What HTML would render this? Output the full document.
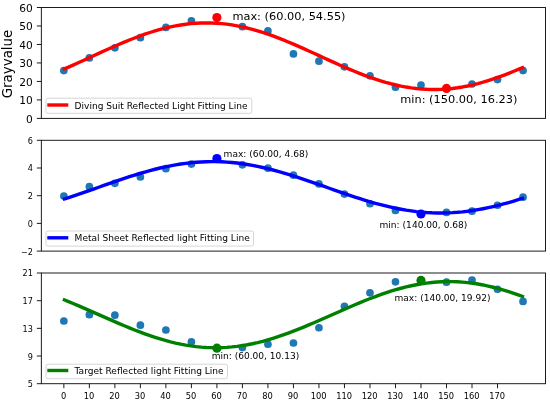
<!DOCTYPE html>
<html><head><meta charset="utf-8"><title>Reflected Light Fitting</title>
<style>html,body{margin:0;padding:0;background:#fff}svg{display:block;filter:blur(0.3px)}</style></head>
<body>
<svg width="550" height="401" viewBox="0 0 550 401" font-family="DejaVu Sans, Liberation Sans, sans-serif">
<rect width="550" height="401" fill="#fff"/>
<g id="ax1">
<circle cx="63.85" cy="70.53" r="3.85" fill="#1f77b4"/>
<circle cx="89.36" cy="57.96" r="3.85" fill="#1f77b4"/>
<circle cx="114.87" cy="47.79" r="3.85" fill="#1f77b4"/>
<circle cx="140.38" cy="37.63" r="3.85" fill="#1f77b4"/>
<circle cx="165.89" cy="27.46" r="3.85" fill="#1f77b4"/>
<circle cx="191.40" cy="20.81" r="3.85" fill="#1f77b4"/>
<circle cx="216.91" cy="17.57" r="4.6" fill="#ff0000"/>
<circle cx="242.42" cy="26.72" r="3.85" fill="#1f77b4"/>
<circle cx="267.93" cy="30.97" r="3.85" fill="#1f77b4"/>
<circle cx="293.44" cy="53.89" r="3.85" fill="#1f77b4"/>
<circle cx="318.95" cy="61.19" r="3.85" fill="#1f77b4"/>
<circle cx="344.46" cy="66.83" r="3.85" fill="#1f77b4"/>
<circle cx="369.97" cy="75.80" r="3.85" fill="#1f77b4"/>
<circle cx="395.48" cy="87.26" r="3.85" fill="#1f77b4"/>
<circle cx="420.99" cy="85.04" r="3.85" fill="#1f77b4"/>
<circle cx="446.50" cy="88.40" r="4.6" fill="#ff0000"/>
<circle cx="472.01" cy="84.02" r="3.85" fill="#1f77b4"/>
<circle cx="497.52" cy="79.59" r="3.85" fill="#1f77b4"/>
<circle cx="523.03" cy="70.53" r="3.85" fill="#1f77b4"/>
<path d="M62.83 69.51 L67.95 67.32 L73.08 65.07 L78.20 62.78 L83.33 60.46 L88.45 58.11 L93.58 55.76 L98.70 53.40 L103.83 51.07 L108.95 48.75 L114.08 46.48 L119.20 44.25 L124.33 42.08 L129.45 39.98 L134.58 37.97 L139.70 36.04 L144.82 34.22 L149.95 32.50 L155.07 30.91 L160.20 29.44 L165.32 28.10 L170.45 26.90 L175.57 25.85 L180.70 24.96 L185.82 24.21 L190.95 23.63 L196.07 23.21 L201.20 22.96 L206.32 22.87 L211.45 22.95 L216.57 23.20 L221.69 23.61 L226.82 24.18 L231.94 24.91 L237.07 25.80 L242.19 26.84 L247.32 28.03 L252.44 29.36 L257.57 30.82 L262.69 32.41 L267.82 34.12 L272.94 35.94 L278.07 37.86 L283.19 39.87 L288.32 41.96 L293.44 44.13 L298.56 46.35 L303.69 48.63 L308.81 50.94 L313.94 53.28 L319.06 55.63 L324.19 57.98 L329.31 60.33 L334.44 62.66 L339.56 64.95 L344.69 67.20 L349.81 69.39 L354.94 71.52 L360.06 73.57 L365.19 75.54 L370.31 77.40 L375.43 79.17 L380.56 80.81 L385.68 82.34 L390.81 83.73 L395.93 84.98 L401.06 86.09 L406.18 87.05 L411.31 87.86 L416.43 88.51 L421.56 89.00 L426.68 89.32 L431.81 89.48 L436.93 89.47 L442.06 89.29 L447.18 88.95 L452.30 88.44 L457.43 87.78 L462.55 86.95 L467.68 85.97 L472.80 84.85 L477.93 83.57 L483.05 82.17 L488.18 80.63 L493.30 78.97 L498.43 77.19 L503.55 75.31 L508.68 73.34 L513.80 71.28 L518.93 69.14 L524.05 66.94" fill="none" stroke="#ff0000" stroke-width="3.4" stroke-linecap="butt" stroke-linejoin="round"/>
<text x="232.4" y="19.5" font-size="11.35" fill="#000">max: (60.00, 54.55)</text>
<text x="400.3" y="102.6" font-size="11.35" fill="#000">min: (150.00, 16.23)</text>
<rect x="46.0" y="98.20" width="205.8" height="15.1" rx="2" ry="2" fill="#fff" fill-opacity="0.8" stroke="#ccc" stroke-opacity="0.8" stroke-width="1"/>
<line x1="47.3" x2="68.3" y1="105.00" y2="105.00" stroke="#ff0000" stroke-width="3.4"/>
<text x="74.6" y="108.70" font-size="9.05" fill="#000">Diving Suit Reflected Light Fitting Line</text>
<rect x="41.35" y="7.5" width="504.15" height="110.90" fill="none" stroke="#111" stroke-width="0.95"/>
<line x1="36.85" x2="41.35" y1="118.40" y2="118.40" stroke="#111" stroke-width="0.95"/>
<text x="32.85" y="122.73" font-size="10.6" text-anchor="end" fill="#000">0</text>
<line x1="36.85" x2="41.35" y1="99.92" y2="99.92" stroke="#111" stroke-width="0.95"/>
<text x="32.85" y="104.24" font-size="10.6" text-anchor="end" fill="#000">10</text>
<line x1="36.85" x2="41.35" y1="81.43" y2="81.43" stroke="#111" stroke-width="0.95"/>
<text x="32.85" y="85.76" font-size="10.6" text-anchor="end" fill="#000">20</text>
<line x1="36.85" x2="41.35" y1="62.95" y2="62.95" stroke="#111" stroke-width="0.95"/>
<text x="32.85" y="67.28" font-size="10.6" text-anchor="end" fill="#000">30</text>
<line x1="36.85" x2="41.35" y1="44.47" y2="44.47" stroke="#111" stroke-width="0.95"/>
<text x="32.85" y="48.79" font-size="10.6" text-anchor="end" fill="#000">40</text>
<line x1="36.85" x2="41.35" y1="25.98" y2="25.98" stroke="#111" stroke-width="0.95"/>
<text x="32.85" y="30.31" font-size="10.6" text-anchor="end" fill="#000">50</text>
<line x1="36.85" x2="41.35" y1="7.50" y2="7.50" stroke="#111" stroke-width="0.95"/>
<text x="32.85" y="11.83" font-size="10.6" text-anchor="end" fill="#000">60</text>
</g>
<g id="ax2">
<circle cx="63.85" cy="196.12" r="3.85" fill="#1f77b4"/>
<circle cx="89.36" cy="186.70" r="3.85" fill="#1f77b4"/>
<circle cx="114.87" cy="183.37" r="3.85" fill="#1f77b4"/>
<circle cx="140.38" cy="177.00" r="3.85" fill="#1f77b4"/>
<circle cx="165.89" cy="168.69" r="3.85" fill="#1f77b4"/>
<circle cx="191.40" cy="164.12" r="3.85" fill="#1f77b4"/>
<circle cx="216.91" cy="158.58" r="4.6" fill="#0000ff"/>
<circle cx="242.42" cy="164.81" r="3.85" fill="#1f77b4"/>
<circle cx="267.93" cy="168.14" r="3.85" fill="#1f77b4"/>
<circle cx="293.44" cy="175.20" r="3.85" fill="#1f77b4"/>
<circle cx="318.95" cy="183.93" r="3.85" fill="#1f77b4"/>
<circle cx="344.46" cy="194.04" r="3.85" fill="#1f77b4"/>
<circle cx="369.97" cy="203.73" r="3.85" fill="#1f77b4"/>
<circle cx="395.48" cy="210.38" r="3.85" fill="#1f77b4"/>
<circle cx="420.99" cy="213.98" r="4.6" fill="#0000ff"/>
<circle cx="446.50" cy="212.46" r="3.85" fill="#1f77b4"/>
<circle cx="472.01" cy="211.21" r="3.85" fill="#1f77b4"/>
<circle cx="497.52" cy="205.26" r="3.85" fill="#1f77b4"/>
<circle cx="523.03" cy="197.22" r="3.85" fill="#1f77b4"/>
<path d="M62.83 199.42 L67.95 197.79 L73.08 196.11 L78.20 194.39 L83.33 192.63 L88.45 190.85 L93.58 189.05 L98.70 187.23 L103.83 185.42 L108.95 183.62 L114.08 181.84 L119.20 180.08 L124.33 178.36 L129.45 176.69 L134.58 175.06 L139.70 173.50 L144.82 172.01 L149.95 170.59 L155.07 169.26 L160.20 168.01 L165.32 166.86 L170.45 165.82 L175.57 164.88 L180.70 164.05 L185.82 163.34 L190.95 162.75 L196.07 162.28 L201.20 161.93 L206.32 161.71 L211.45 161.62 L216.57 161.65 L221.69 161.82 L226.82 162.11 L231.94 162.52 L237.07 163.06 L242.19 163.72 L247.32 164.50 L252.44 165.39 L257.57 166.39 L262.69 167.49 L267.82 168.69 L272.94 169.99 L278.07 171.37 L283.19 172.83 L288.32 174.36 L293.44 175.96 L298.56 177.61 L303.69 179.31 L308.81 181.06 L313.94 182.83 L319.06 184.62 L324.19 186.43 L329.31 188.24 L334.44 190.05 L339.56 191.84 L344.69 193.62 L349.81 195.36 L354.94 197.06 L360.06 198.71 L365.19 200.30 L370.31 201.83 L375.43 203.29 L380.56 204.67 L385.68 205.96 L390.81 207.16 L395.93 208.26 L401.06 209.25 L406.18 210.14 L411.31 210.91 L416.43 211.57 L421.56 212.10 L426.68 212.51 L431.81 212.80 L436.93 212.95 L442.06 212.98 L447.18 212.89 L452.30 212.66 L457.43 212.31 L462.55 211.84 L467.68 211.24 L472.80 210.52 L477.93 209.69 L483.05 208.75 L488.18 207.70 L493.30 206.54 L498.43 205.30 L503.55 203.96 L508.68 202.54 L513.80 201.04 L518.93 199.48 L524.05 197.85" fill="none" stroke="#0000ff" stroke-width="3.4" stroke-linecap="butt" stroke-linejoin="round"/>
<text x="223.6" y="157.0" font-size="9.08" fill="#000">max: (60.00, 4.68)</text>
<text x="379.5" y="228.2" font-size="9.08" fill="#000">min: (140.00, 0.68)</text>
<rect x="46.0" y="231.00" width="207.5" height="15.1" rx="2" ry="2" fill="#fff" fill-opacity="0.8" stroke="#ccc" stroke-opacity="0.8" stroke-width="1"/>
<line x1="47.3" x2="68.3" y1="237.80" y2="237.80" stroke="#0000ff" stroke-width="3.4"/>
<text x="74.6" y="241.30" font-size="9.05" fill="#000">Metal Sheet Reflected light Fitting Line</text>
<rect x="41.35" y="140.3" width="504.15" height="110.80" fill="none" stroke="#111" stroke-width="0.95"/>
<line x1="36.85" x2="41.35" y1="251.10" y2="251.10" stroke="#111" stroke-width="0.95"/>
<text x="32.85" y="254.58" font-size="8.1" text-anchor="end" fill="#000">−2</text>
<line x1="36.85" x2="41.35" y1="223.40" y2="223.40" stroke="#111" stroke-width="0.95"/>
<text x="32.85" y="226.88" font-size="8.1" text-anchor="end" fill="#000">0</text>
<line x1="36.85" x2="41.35" y1="195.70" y2="195.70" stroke="#111" stroke-width="0.95"/>
<text x="32.85" y="199.18" font-size="8.1" text-anchor="end" fill="#000">2</text>
<line x1="36.85" x2="41.35" y1="168.00" y2="168.00" stroke="#111" stroke-width="0.95"/>
<text x="32.85" y="171.48" font-size="8.1" text-anchor="end" fill="#000">4</text>
<line x1="36.85" x2="41.35" y1="140.30" y2="140.30" stroke="#111" stroke-width="0.95"/>
<text x="32.85" y="143.78" font-size="8.1" text-anchor="end" fill="#000">6</text>
</g>
<g id="ax3">
<circle cx="63.85" cy="321.02" r="3.85" fill="#1f77b4"/>
<circle cx="89.36" cy="314.72" r="3.85" fill="#1f77b4"/>
<circle cx="114.87" cy="315.20" r="3.85" fill="#1f77b4"/>
<circle cx="140.38" cy="325.17" r="3.85" fill="#1f77b4"/>
<circle cx="165.89" cy="330.01" r="3.85" fill="#1f77b4"/>
<circle cx="191.40" cy="341.84" r="3.85" fill="#1f77b4"/>
<circle cx="216.91" cy="348.21" r="4.6" fill="#008000"/>
<circle cx="242.42" cy="347.58" r="3.85" fill="#1f77b4"/>
<circle cx="267.93" cy="344.26" r="3.85" fill="#1f77b4"/>
<circle cx="293.44" cy="343.02" r="3.85" fill="#1f77b4"/>
<circle cx="318.95" cy="327.73" r="3.85" fill="#1f77b4"/>
<circle cx="344.46" cy="306.35" r="3.85" fill="#1f77b4"/>
<circle cx="369.97" cy="292.79" r="3.85" fill="#1f77b4"/>
<circle cx="395.48" cy="281.86" r="3.85" fill="#1f77b4"/>
<circle cx="420.99" cy="280.47" r="4.6" fill="#008000"/>
<circle cx="446.50" cy="282.13" r="3.85" fill="#1f77b4"/>
<circle cx="472.01" cy="280.06" r="3.85" fill="#1f77b4"/>
<circle cx="497.52" cy="289.26" r="3.85" fill="#1f77b4"/>
<circle cx="523.03" cy="301.44" r="3.85" fill="#1f77b4"/>
<path d="M62.83 299.28 L67.95 301.33 L73.08 303.45 L78.20 305.62 L83.33 307.83 L88.45 310.07 L93.58 312.34 L98.70 314.62 L103.83 316.90 L108.95 319.16 L114.08 321.41 L119.20 323.62 L124.33 325.79 L129.45 327.91 L134.58 329.97 L139.70 331.95 L144.82 333.85 L149.95 335.66 L155.07 337.37 L160.20 338.97 L165.32 340.46 L170.45 341.82 L175.57 343.05 L180.70 344.15 L185.82 345.11 L190.95 345.93 L196.07 346.59 L201.20 347.11 L206.32 347.47 L211.45 347.67 L216.57 347.72 L221.69 347.61 L226.82 347.34 L231.94 346.92 L237.07 346.35 L242.19 345.62 L247.32 344.75 L252.44 343.74 L257.57 342.58 L262.69 341.30 L267.82 339.88 L272.94 338.35 L278.07 336.71 L283.19 334.96 L288.32 333.11 L293.44 331.18 L298.56 329.16 L303.69 327.08 L308.81 324.94 L313.94 322.75 L319.06 320.53 L324.19 318.27 L329.31 316.00 L334.44 313.72 L339.56 311.44 L344.69 309.18 L349.81 306.95 L354.94 304.75 L360.06 302.60 L365.19 300.51 L370.31 298.49 L375.43 296.54 L380.56 294.67 L385.68 292.91 L390.81 291.24 L395.93 289.69 L401.06 288.25 L406.18 286.94 L411.31 285.77 L416.43 284.73 L421.56 283.83 L426.68 283.07 L431.81 282.47 L436.93 282.02 L442.06 281.73 L447.18 281.59 L452.30 281.61 L457.43 281.79 L462.55 282.12 L467.68 282.60 L472.80 283.24 L477.93 284.03 L483.05 284.96 L488.18 286.04 L493.30 287.25 L498.43 288.59 L503.55 290.05 L508.68 291.63 L513.80 293.32 L518.93 295.12 L524.05 297.00" fill="none" stroke="#008000" stroke-width="3.4" stroke-linecap="butt" stroke-linejoin="round"/>
<text x="211.7" y="359.3" font-size="9.06" fill="#000">min: (60.00, 10.13)</text>
<text x="394.5" y="301.0" font-size="9.06" fill="#000">max: (140.00, 19.92)</text>
<rect x="46.0" y="364.20" width="181.5" height="14.5" rx="2" ry="2" fill="#fff" fill-opacity="0.8" stroke="#ccc" stroke-opacity="0.8" stroke-width="1"/>
<line x1="47.3" x2="68.3" y1="370.50" y2="370.50" stroke="#008000" stroke-width="3.4"/>
<text x="74.6" y="373.80" font-size="9.05" fill="#000">Target Reflected light Fitting Line</text>
<rect x="41.35" y="273.0" width="504.15" height="110.70" fill="none" stroke="#111" stroke-width="0.95"/>
<line x1="36.85" x2="41.35" y1="383.70" y2="383.70" stroke="#111" stroke-width="0.95"/>
<text x="32.85" y="387.18" font-size="8.1" text-anchor="end" fill="#000">5</text>
<line x1="36.85" x2="41.35" y1="356.02" y2="356.02" stroke="#111" stroke-width="0.95"/>
<text x="32.85" y="359.50" font-size="8.1" text-anchor="end" fill="#000">9</text>
<line x1="36.85" x2="41.35" y1="328.35" y2="328.35" stroke="#111" stroke-width="0.95"/>
<text x="32.85" y="331.83" font-size="8.1" text-anchor="end" fill="#000">13</text>
<line x1="36.85" x2="41.35" y1="300.68" y2="300.68" stroke="#111" stroke-width="0.95"/>
<text x="32.85" y="304.15" font-size="8.1" text-anchor="end" fill="#000">17</text>
<line x1="36.85" x2="41.35" y1="273.00" y2="273.00" stroke="#111" stroke-width="0.95"/>
<text x="32.85" y="276.48" font-size="8.1" text-anchor="end" fill="#000">21</text>
</g>
<line x1="63.85" x2="63.85" y1="383.7" y2="388.2" stroke="#111" stroke-width="0.95"/>
<text x="63.55" y="398.60" font-size="8.3" text-anchor="middle" fill="#000">0</text>
<line x1="89.36" x2="89.36" y1="383.7" y2="388.2" stroke="#111" stroke-width="0.95"/>
<text x="89.06" y="398.60" font-size="8.3" text-anchor="middle" fill="#000">10</text>
<line x1="114.87" x2="114.87" y1="383.7" y2="388.2" stroke="#111" stroke-width="0.95"/>
<text x="114.57" y="398.60" font-size="8.3" text-anchor="middle" fill="#000">20</text>
<line x1="140.38" x2="140.38" y1="383.7" y2="388.2" stroke="#111" stroke-width="0.95"/>
<text x="140.08" y="398.60" font-size="8.3" text-anchor="middle" fill="#000">30</text>
<line x1="165.89" x2="165.89" y1="383.7" y2="388.2" stroke="#111" stroke-width="0.95"/>
<text x="165.59" y="398.60" font-size="8.3" text-anchor="middle" fill="#000">40</text>
<line x1="191.40" x2="191.40" y1="383.7" y2="388.2" stroke="#111" stroke-width="0.95"/>
<text x="191.10" y="398.60" font-size="8.3" text-anchor="middle" fill="#000">50</text>
<line x1="216.91" x2="216.91" y1="383.7" y2="388.2" stroke="#111" stroke-width="0.95"/>
<text x="216.61" y="398.60" font-size="8.3" text-anchor="middle" fill="#000">60</text>
<line x1="242.42" x2="242.42" y1="383.7" y2="388.2" stroke="#111" stroke-width="0.95"/>
<text x="242.12" y="398.60" font-size="8.3" text-anchor="middle" fill="#000">70</text>
<line x1="267.93" x2="267.93" y1="383.7" y2="388.2" stroke="#111" stroke-width="0.95"/>
<text x="267.63" y="398.60" font-size="8.3" text-anchor="middle" fill="#000">80</text>
<line x1="293.44" x2="293.44" y1="383.7" y2="388.2" stroke="#111" stroke-width="0.95"/>
<text x="293.14" y="398.60" font-size="8.3" text-anchor="middle" fill="#000">90</text>
<line x1="318.95" x2="318.95" y1="383.7" y2="388.2" stroke="#111" stroke-width="0.95"/>
<text x="318.65" y="398.60" font-size="8.3" text-anchor="middle" fill="#000">100</text>
<line x1="344.46" x2="344.46" y1="383.7" y2="388.2" stroke="#111" stroke-width="0.95"/>
<text x="344.16" y="398.60" font-size="8.3" text-anchor="middle" fill="#000">110</text>
<line x1="369.97" x2="369.97" y1="383.7" y2="388.2" stroke="#111" stroke-width="0.95"/>
<text x="369.67" y="398.60" font-size="8.3" text-anchor="middle" fill="#000">120</text>
<line x1="395.48" x2="395.48" y1="383.7" y2="388.2" stroke="#111" stroke-width="0.95"/>
<text x="395.18" y="398.60" font-size="8.3" text-anchor="middle" fill="#000">130</text>
<line x1="420.99" x2="420.99" y1="383.7" y2="388.2" stroke="#111" stroke-width="0.95"/>
<text x="420.69" y="398.60" font-size="8.3" text-anchor="middle" fill="#000">140</text>
<line x1="446.50" x2="446.50" y1="383.7" y2="388.2" stroke="#111" stroke-width="0.95"/>
<text x="446.20" y="398.60" font-size="8.3" text-anchor="middle" fill="#000">150</text>
<line x1="472.01" x2="472.01" y1="383.7" y2="388.2" stroke="#111" stroke-width="0.95"/>
<text x="471.71" y="398.60" font-size="8.3" text-anchor="middle" fill="#000">160</text>
<line x1="497.52" x2="497.52" y1="383.7" y2="388.2" stroke="#111" stroke-width="0.95"/>
<text x="497.22" y="398.60" font-size="8.3" text-anchor="middle" fill="#000">170</text>
<text transform="translate(12.0 64.0) rotate(-90)" font-size="13.4" text-anchor="middle" fill="#000">Grayvalue</text>
</svg>
</body></html>
